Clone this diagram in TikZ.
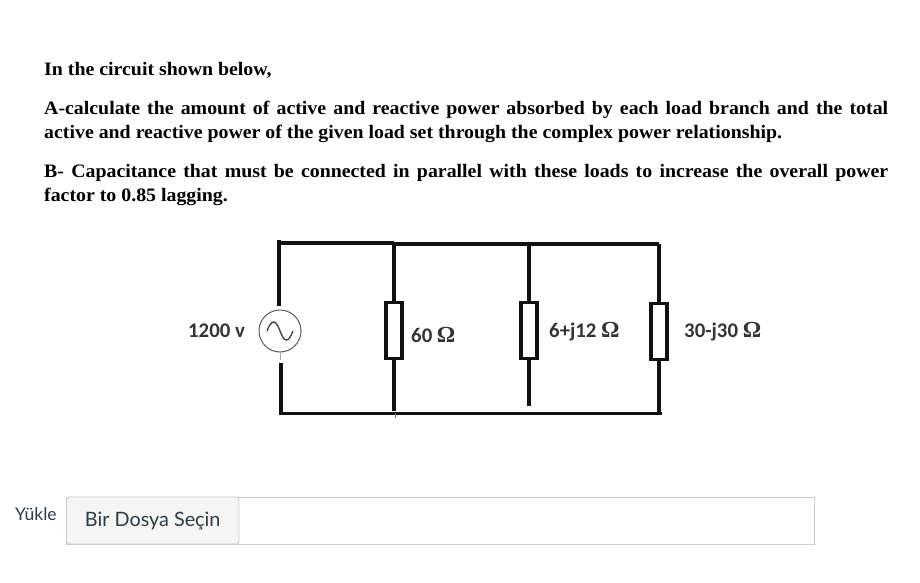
\documentclass[tikz,border=0pt]{standalone}
\usepackage{fontspec}
\setmainfont{Liberation Serif}
\newfontfamily\qfont[FakeStretch=1.045]{Liberation Serif}
\newfontfamily\labelfont{Carlito}
\newfontfamily\pagefont{Lato}
\usepackage{xcolor}
\usetikzlibrary{positioning,calc}
\definecolor{wirecol}{HTML}{111111}
\definecolor{labelcol}{HTML}{333333}
\definecolor{pagecol}{HTML}{2D3B45}
\definecolor{boxcol}{HTML}{C7CDD1}
\definecolor{btncol}{HTML}{F5F5F5}
\def\RHeight{56pt}
\def\RWidth{16pt}
\def\BranchGap{135pt}
\newcommand{\fullline}[1]{\makebox[844pt][s]{#1}}
\newcommand{\ohm}{{\rmfamily\bfseries\fontsize{23}{24}\selectfont Ω}}
\tikzset{
	wire/.style={line width=3.4pt,draw=wirecol},
	load/.style={draw=wirecol,line width=3.4pt,fill=white,rectangle,minimum width=\RWidth,minimum height=\RHeight,inner sep=0pt},
	source/.style={draw=black!65,line width=1pt,fill=white,circle,minimum size=42pt,inner sep=0pt},
	qline/.style={anchor=base west,inner sep=0pt,font=\fontsize{19}{24}\selectfont\qfont\bfseries},
	clabel/.style={anchor=base west,inner sep=0pt,text=labelcol,font=\fontsize{20.8}{22}\selectfont\labelfont\bfseries},
	field/.style={draw=boxcol,line width=0.9pt,rectangle,inner sep=0pt,anchor=north west},
}
\begin{document}
\begin{tikzpicture}[x=1pt,y=-1pt]
	\useasboundingbox (0,0) rectangle (920,583);
	% question text
	\node[qline] (q1) at (44,75.5) {In the circuit shown below,};
	\node[qline] (q2) at (44,114.5) {\fullline{A-calculate the amount of active and reactive power absorbed by each load branch and the total}};
	\node[qline] (q3) at (44,138.5) {active and reactive power of the given load set through the complex power relationship.};
	\node[qline] (q4) at (44,177.5) {\fullline{B- Capacitance that must be connected in parallel with these loads to increase the overall power}};
	\node[qline] (q5) at (44,201.5) {factor to 0.85 lagging.};
	% sources and loads
	\node[source] (vs) at (280,331) {};
	\node[load] (r1) at (394,330.5) {};
	\node[load,right=\BranchGap-\RWidth-3.4pt of r1] (r2) {};
	\node[load] (r3) at (659,331.5) {};
	% corners
	\coordinate (tl) at (279,240);
	\coordinate (tla) at (279,243);
	\coordinate (t1) at (394,243);
	\coordinate (t2) at (529,244);
	\coordinate (t3) at (659,244);
	\coordinate (s1) at (279,306);
	\coordinate (s2) at (281,363);
	\coordinate (bl) at (281,413.5);
	\coordinate (b1) at (394,411);
	\coordinate (b2) at (529,406);
	\coordinate (b3) at (659,413.5);
	\coordinate (br) at (662,413.5);
	\coordinate (g1) at (280,352);
	\coordinate (g2) at (280,360);
	\coordinate (k1) at (395,413);
	\coordinate (k2) at (395,418);
	% wires
	\draw[wire] (tl) -- (s1);
	\draw[wire] (tla) -- (t1);
	\draw[wire] (t1 |- t2) -- (t3);
	\draw[wire] (t1) -- (r1);
	\draw[wire] (r1) -- (b1);
	\draw[wire] (t2) -- (r2);
	\draw[wire] (r2) -- (b2);
	\draw[wire] (t3) -- (r3);
	\draw[wire] (r3) -- (b3);
	\draw[wire] (s2) -- (bl) -- (br);
	\draw[draw=black!35,line width=1pt] (g1) -- (g2);
	\draw[draw=black!60,line width=0.7pt] (k1) -- (k2);
	\coordinate (sinl) at ($(vs.center)+(-13,0)$);
	\coordinate (sinr) at ($(vs.center)+(13,0)$);
	\draw[draw=black!75,line width=1.3pt] (sinl) .. controls ($(vs.center)+(-8,-13)$) and ($(vs.center)+(-4,-11)$) .. (vs.center) .. controls ($(vs.center)+(4,11)$) and ($(vs.center)+(8,13)$) .. (sinr);
	% labels
	\node[clabel] (lv) at (188,337.5) {1200 v};
	\node[clabel] (l1) at (411,342.5) {60 \ohm};
	\node[clabel] (l2) at (549,337.5) {6+j12 \ohm};
	\node[clabel] (l3) at (684,337.5) {30-j30 \ohm};
	% upload row
	\node[anchor=base west,inner sep=0pt,text=pagecol,font=\fontsize{17.5}{20}\selectfont\pagefont] (up) at (15,520) {Yükle};
	\node[field,minimum width=748pt,minimum height=47pt] (upfield) at (66,496.5) {};
	\node[field,fill=btncol,rounded corners=3pt,minimum width=172.5pt,minimum height=47pt] (upbtn) at (66,496.5) {};
	\node[text=pagecol,inner sep=0pt,font=\fontsize{19.8}{22}\selectfont\pagefont] (upt) at ($(upbtn.center)+(0,1)$) {Bir Dosya Seçin};
\end{tikzpicture}
\end{document}
